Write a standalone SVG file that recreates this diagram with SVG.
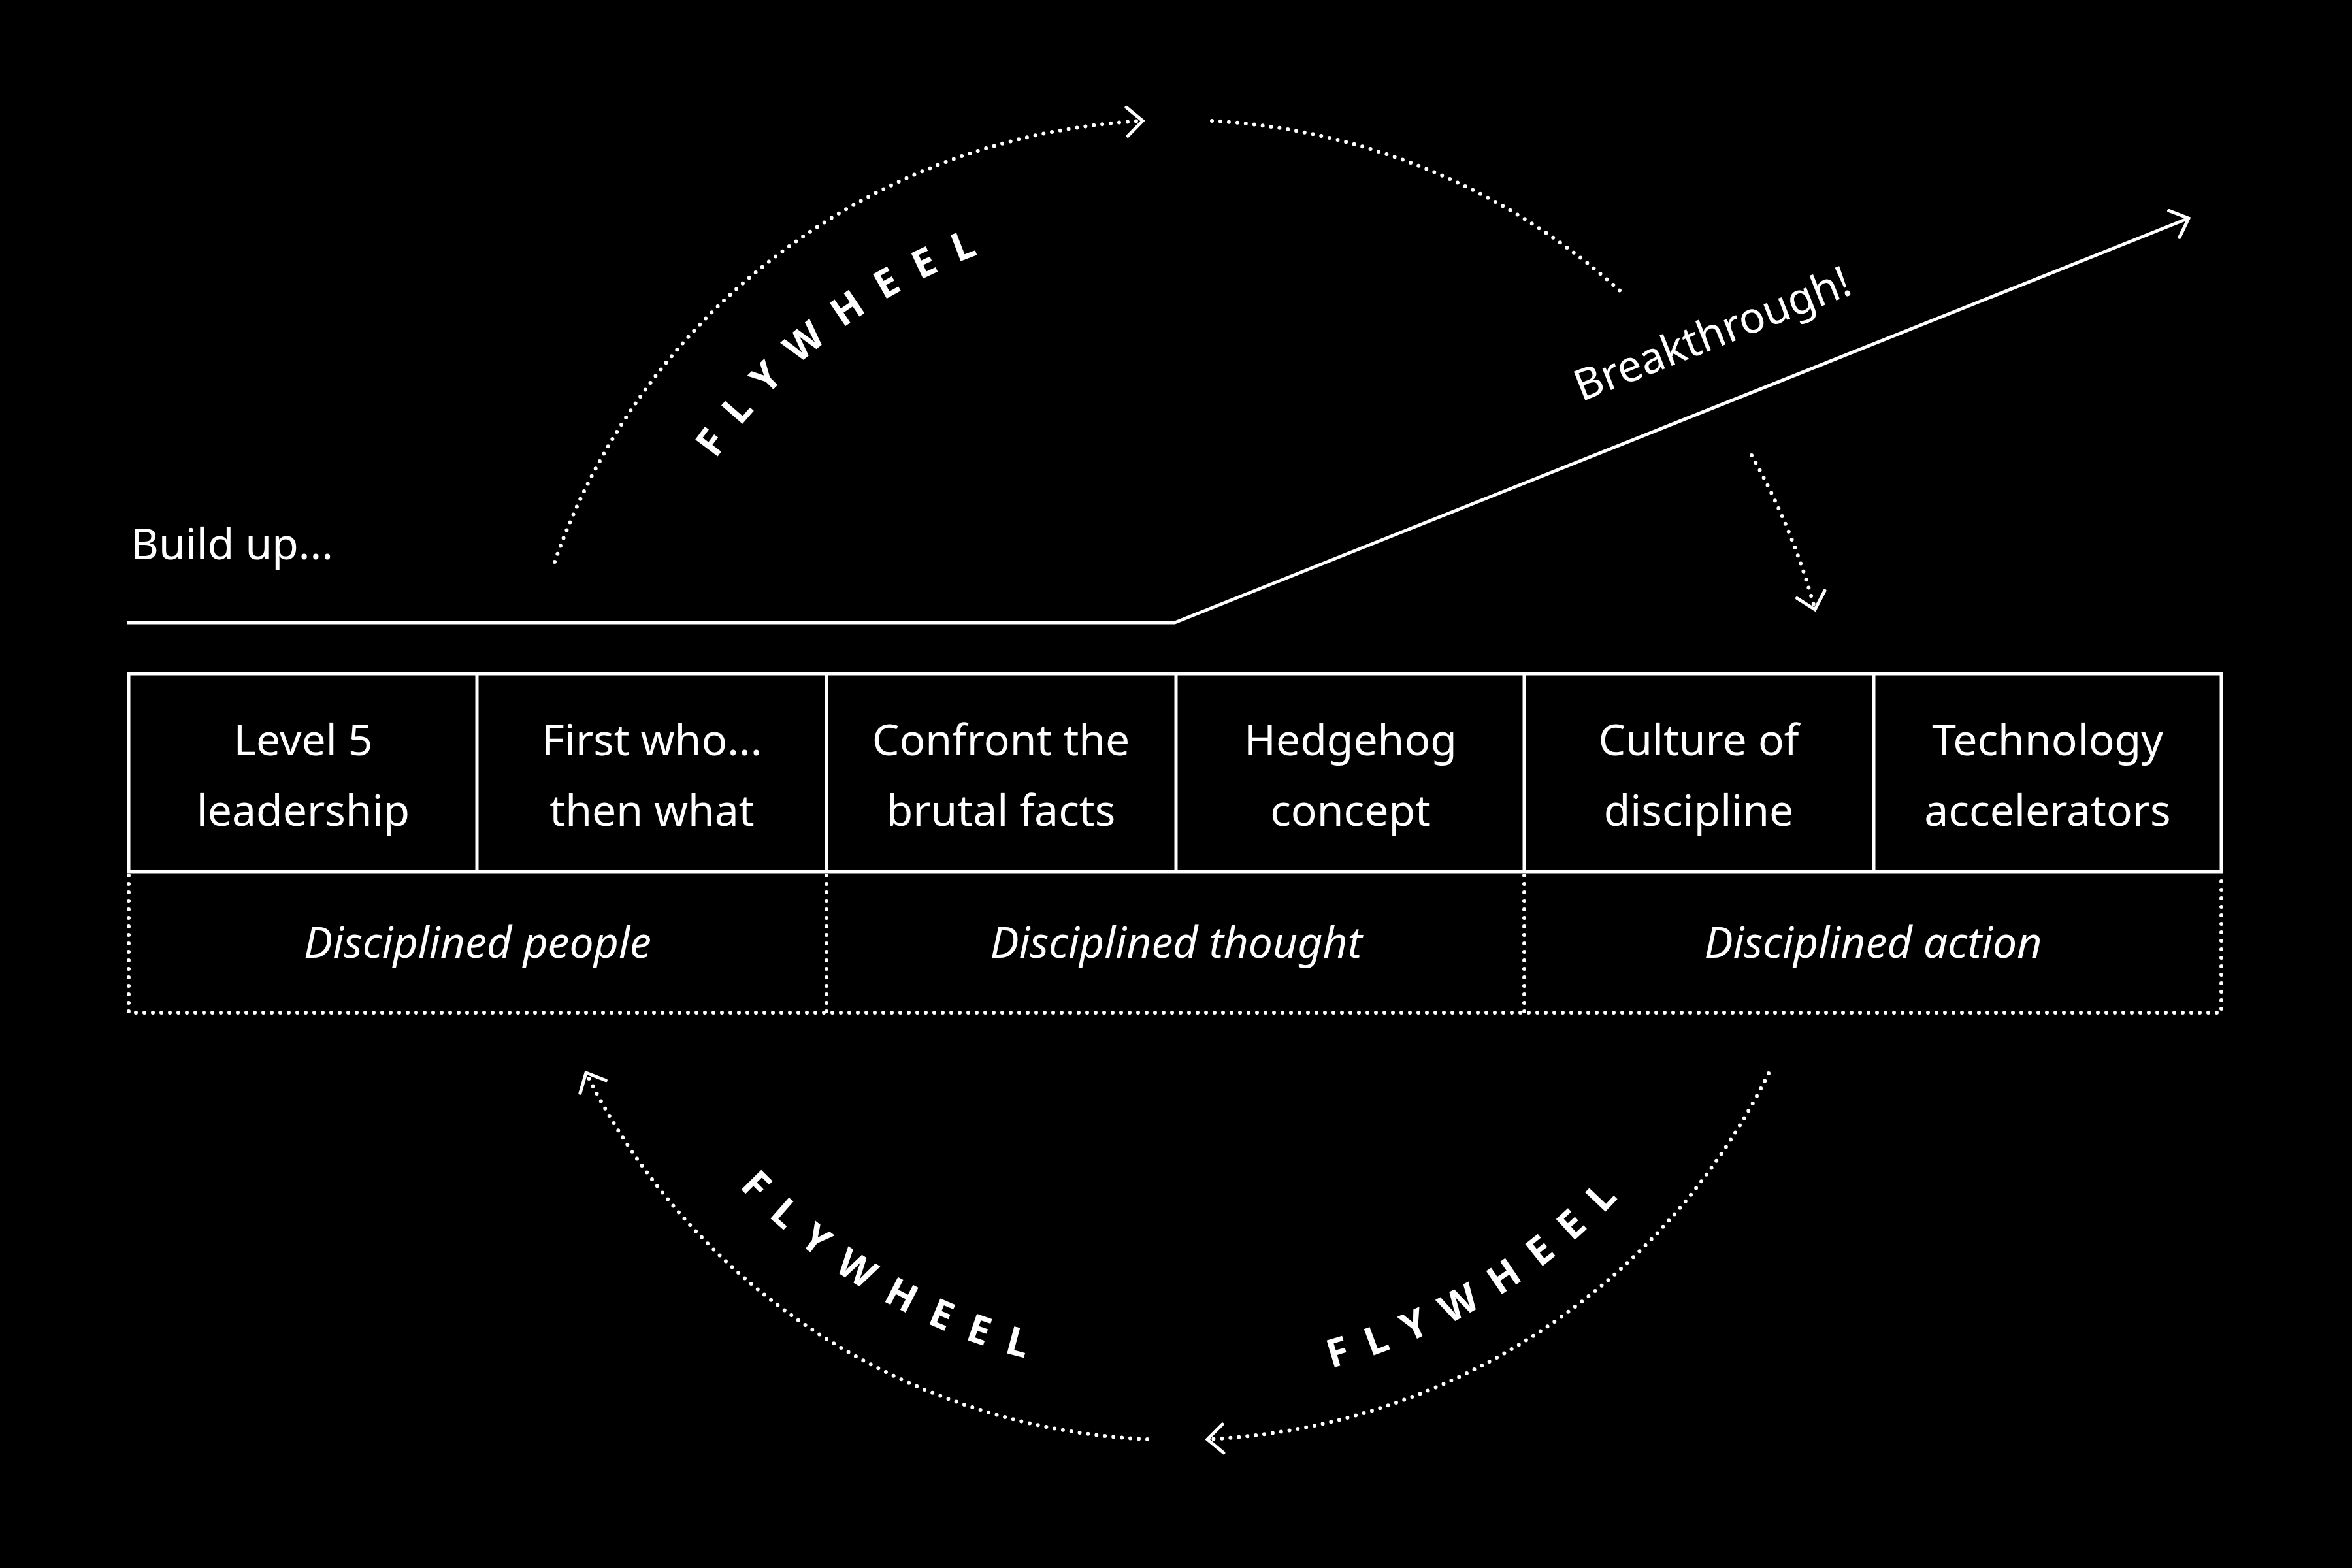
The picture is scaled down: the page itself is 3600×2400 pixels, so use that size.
<svg xmlns="http://www.w3.org/2000/svg" width="3600" height="2400" viewBox="0 0 3600 2400">
<style>
.bg{fill:#000}
.ln{stroke:#fff;stroke-width:5;fill:none}
.dot{stroke:#fff;stroke-width:6;fill:none;stroke-dasharray:0 13;stroke-linecap:round}
.t{font-family:"Noto Sans","Open Sans",sans-serif;font-size:66px;fill:#fff;text-anchor:middle}
.i{font-style:italic}
.fw{font-family:"Noto Sans","Open Sans",sans-serif;font-size:60px;font-weight:bold;fill:#fff;letter-spacing:30px}
</style>
<defs>
<marker id="ch" viewBox="-30 -30 40 60" markerWidth="40" markerHeight="60" markerUnits="userSpaceOnUse" orient="auto" refX="0" refY="0">
<path d="M-24,-22 L0,0 L-24,22" fill="none" stroke="#fff" stroke-width="5" stroke-linecap="round"/>
</marker>
<path id="p1" d="M964,1000 A860,860 0 0 1 1847,335"/>
<path id="p2" d="M942,1507 A915,915 0 0 0 1961,2095"/>
<path id="p3" d="M1665,2114 A930,930 0 0 0 2684,1489"/>
</defs>
<rect class="bg" width="3600" height="2400"/>
<g id="connectors">
<path class="ln" d="M195,953 L1798,953 L3350,334" marker-end="url(#ch)"/>
<path class="dot" d="M849,860 A1010,1010 0 0 1 1749,185" marker-end="url(#ch)"/>
<path class="dot" d="M1855,185 A1010,1010 0 0 1 2487,452"/>
<path class="dot" d="M2681,697 A1010,1010 0 0 1 2778,933" marker-end="url(#ch)"/>
<path class="dot" d="M2707,1643 A1010,1010 0 0 1 1848,2203" marker-end="url(#ch)"/>
<path class="dot" d="M1756,2203 A1010,1010 0 0 1 897,1642" marker-end="url(#ch)"/>
</g>
<g id="labels">
<text class="t" x="200" y="856" style="text-anchor:start">Build up...</text>
<text class="t" transform="translate(2629,532) rotate(-21.7)">Breakthrough!</text>
<text class="fw"><textPath href="#p1" startOffset="50%" text-anchor="middle">FLYWHEEL</textPath></text>
<text class="fw"><textPath href="#p2" startOffset="50%" text-anchor="middle">FLYWHEEL</textPath></text>
<text class="fw"><textPath href="#p3" startOffset="50%" text-anchor="middle">FLYWHEEL</textPath></text>
</g>
<g id="n-row1">
<rect class="ln" x="197" y="1031" width="3203" height="303"/>
<path class="ln" d="M730,1031V1334M1265,1031V1334M1800,1031V1334M2333,1031V1334M2868,1031V1334"/>
</g>
<g id="n1"><text class="t" x="464" y="1156">Level 5</text><text class="t" x="464" y="1264">leadership</text></g>
<g id="n2"><text class="t" x="998" y="1156">First who...</text><text class="t" x="998" y="1264">then what</text></g>
<g id="n3"><text class="t" x="1532" y="1156">Confront the</text><text class="t" x="1532" y="1264">brutal facts</text></g>
<g id="n4"><text class="t" x="2067" y="1156">Hedgehog</text><text class="t" x="2067" y="1264">concept</text></g>
<g id="n5"><text class="t" x="2600" y="1156">Culture of</text><text class="t" x="2600" y="1264">discipline</text></g>
<g id="n6"><text class="t" x="3134" y="1156">Technology</text><text class="t" x="3134" y="1264">accelerators</text></g>
<g id="n-row2">
<path class="dot" d="M197,1340V1550H3400V1340M1265,1340V1550M2333,1340V1550"/>
<text class="t i" x="731" y="1466">Disciplined people</text>
<text class="t i" x="1800" y="1466">Disciplined thought</text>
<text class="t i" x="2867" y="1466">Disciplined action</text>
</g>
</svg>
